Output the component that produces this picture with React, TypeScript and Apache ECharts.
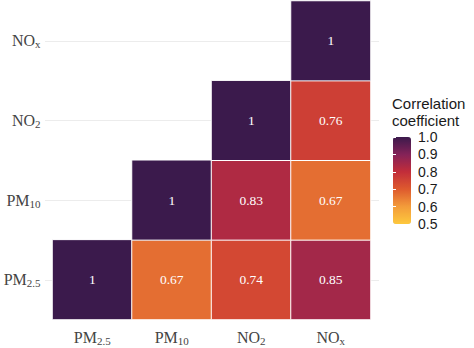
import React, { useEffect, useRef } from "react";
import * as echarts from "echarts";

const xCategories = ["PM{s|2.5}", "PM{s|10}", "NO{s|2}", "NO{s|x}"];
const yCategories = ["PM{s|2.5}", "PM{s|10}", "NO{s|2}", "NO{s|x}"];

// correlation values per row (bottom to top), null = not shown
const rowPM25 = [1, 0.67, 0.74, 0.85];
const rowPM10 = [null, 1, 0.83, 0.67];
const rowNO2 = [null, null, 1, 0.76];
const rowNOx = [null, null, null, 1];

const legendTicks = [0.5, 0.6, 0.7, 0.8, 0.9, 1.0];
const paletteLowToHigh = ["#fdc83d", "#f39c3a", "#de5a2e", "#c22d3a", "#842258", "#3b1a4c"];

export default function App() {
  const ref = useRef<HTMLDivElement>(null);

  useEffect(() => {
    if (!ref.current) return;
    const chart = echarts.init(ref.current, undefined, { renderer: "svg" });
    const rows = [rowPM25, rowPM10, rowNO2, rowNOx];
    const data: any[] = [];
    rows.forEach((row, yi) => {
      row.forEach((v, xi) => {
        if (v !== null) data.push([xi, yi, v]);
      });
    });

    const serif = "'Liberation Serif', 'Times New Roman', serif";
    const sans = "'Liberation Sans', Arial, sans-serif";
    const rich = {
      m: { fontSize: 16, fontFamily: serif, color: "#444", lineHeight: 18, verticalAlign: "middle" },
      s: { fontSize: 11, fontFamily: serif, color: "#444", lineHeight: 8, verticalAlign: "bottom" },
    };
    const fmt = (v: string) => v.replace(/^([A-Z]+)/, "{m|$1}");

    chart.setOption({
      animation: false,
      backgroundColor: "#ffffff",
      grid: [
        { left: 52.5, top: 1, width: 318, height: 318.5 },
        { left: 393, top: 137, width: 18, height: 87 },
        { left: 45, top: 40.8, width: 334, height: 239.3 },
      ],
      xAxis: [
        {
          gridIndex: 0,
          type: "category",
          data: xCategories,
          axisLine: { show: false },
          axisTick: { show: false },
          splitLine: { show: false },
          axisLabel: { margin: 9, interval: 0, formatter: fmt, rich },
        },
        { gridIndex: 1, type: "value", show: false },
        { gridIndex: 2, type: "value", show: false },
      ],
      yAxis: [
        {
          gridIndex: 0,
          type: "category",
          data: yCategories,
          axisLine: { show: false },
          axisTick: { show: false },
          splitLine: { show: false },
          axisLabel: { margin: 12, interval: 0, formatter: fmt, rich },
        },
        {
          gridIndex: 1,
          type: "value",
          min: 0.5,
          max: 1.0,
          interval: 0.1,
          position: "right",
          z: 10,
          axisLine: { show: false },
          axisTick: { show: true, inside: true, length: 3, lineStyle: { color: "#ffffff", width: 1 } },
          splitLine: { show: false },
          axisLabel: {
            margin: 7,
            fontSize: 14,
            fontFamily: sans,
            color: "#1a1a1a",
            formatter: (v: number) => v.toFixed(1),
          },
        },
        {
          gridIndex: 1,
          type: "value",
          min: 0.5,
          max: 1.0,
          interval: 0.1,
          position: "left",
          z: 10,
          axisLine: { show: false },
          axisTick: { show: true, inside: true, length: 3, lineStyle: { color: "#ffffff", width: 1 } },
          splitLine: { show: false },
          axisLabel: { show: false },
        },
        {
          gridIndex: 2,
          type: "category",
          boundaryGap: false,
          data: yCategories,
          axisLine: { show: false },
          axisTick: { show: false },
          axisLabel: { show: false },
          splitLine: { show: true, lineStyle: { color: "#ececec", width: 1 } },
        },
      ],
      visualMap: {
        type: "continuous",
        seriesIndex: 0,
        dimension: 2,
        min: legendTicks[0],
        max: legendTicks[legendTicks.length - 1],
        calculable: false,
        orient: "vertical",
        left: 393,
        top: 137,
        padding: 0,
        itemWidth: 18,
        itemHeight: 87,
        text: ["", ""],
        showLabel: false,
        inRange: { color: paletteLowToHigh },
      },
      graphic: [
        {
          type: "text",
          left: 392,
          top: 95,
          style: {
            text: "Correlation\ncoefficient",
            fontSize: 15,
            fontFamily: sans,
            fill: "#1a1a1a",
            lineHeight: 17,
            align: "center",
            width: 80,
          },
        },
      ],
      series: [
        {
          type: "heatmap",
          xAxisIndex: 0,
          yAxisIndex: 0,
          data,
          itemStyle: { borderColor: "#ffffff", borderWidth: 1 },
          label: {
            show: true,
            color: "#ffffff",
            fontSize: 13.5,
            fontFamily: serif,
            formatter: (p: any) => String(p.value[2]),
          },
          emphasis: { disabled: true },
        },
      ],
    });

    return () => chart.dispose();
  }, []);

  return (
    <div
      ref={ref}
      style={{ position: "absolute", left: 0, top: 0, width: 474, height: 348 }}
    />
  );
}
